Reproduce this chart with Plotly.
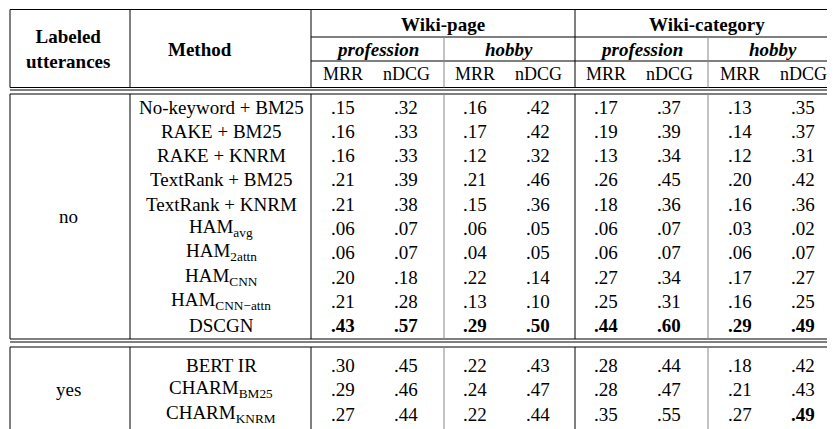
import plotly.graph_objects as go

methods = ["No-keyword + BM25", "RAKE + BM25", "RAKE + KNRM", "TextRank + BM25", "TextRank + KNRM",
           "HAM<sub>avg</sub>", "HAM<sub>2attn</sub>", "HAM<sub>CNN</sub>", "HAM<sub>CNN−attn</sub>", "DSCGN",
           "BERT IR", "CHARM<sub>BM25</sub>", "CHARM<sub>KNRM</sub>"]
values = [
    [".15", ".32", ".16", ".42", ".17", ".37", ".13", ".35"],
    [".16", ".33", ".17", ".42", ".19", ".39", ".14", ".37"],
    [".16", ".33", ".12", ".32", ".13", ".34", ".12", ".31"],
    [".21", ".39", ".21", ".46", ".26", ".45", ".20", ".42"],
    [".21", ".38", ".15", ".36", ".18", ".36", ".16", ".36"],
    [".06", ".07", ".06", ".05", ".06", ".07", ".03", ".02"],
    [".06", ".07", ".04", ".05", ".06", ".07", ".06", ".07"],
    [".20", ".18", ".22", ".14", ".27", ".34", ".17", ".27"],
    [".21", ".28", ".13", ".10", ".25", ".31", ".16", ".25"],
    [".43", ".57", ".29", ".50", ".44", ".60", ".29", ".49"],
    [".30", ".45", ".22", ".43", ".28", ".44", ".18", ".42"],
    [".29", ".46", ".24", ".47", ".28", ".47", ".21", ".43"],
    [".27", ".44", ".22", ".44", ".35", ".55", ".27", ".49"],
]
bold_cells = [(9, c) for c in range(8)] + [(12, 7)]
groups = ["no", "yes"]
sources = ["Wiki-page", "Wiki-category"]
attrs = ["profession", "hobby"]
metrics = ["MRR", "nDCG"]

F = "Liberation Serif, DejaVu Serif, serif"
row_y = [99, 123, 147, 171, 196, 220, 244, 269, 293, 317, 357, 381, 406]
col_x = [335, 398, 467, 530, 598, 661, 732, 795]
fig = go.Figure()
ann = []
def t(x, y, s, size=19, bold=False, ital=False):
    if ital: s = "<i>" + s + "</i>"
    if bold: s = "<b>" + s + "</b>"
    ann.append(dict(x=x, y=y, text=s, showarrow=False, xref="x", yref="y",
                    font=dict(family=F, size=size, color="black"), xanchor="center", yanchor="middle"))

t(60, 41, "Labeled<br>utterances", 19, bold=True)
t(192, 41, "Method", 19, bold=True)
for i, s in enumerate(sources):
    t(435 + i * 264, 16, s, 19, bold=True)
    for j, a in enumerate(attrs):
        t(369 + i * 264 + j * 132, 41, a, 19, bold=True, ital=True)
        for k, m in enumerate(metrics):
            t(col_x[i * 4 + j * 2 + k], 66, m, 18)
for r, (m, row) in enumerate(zip(methods, values)):
    t(213, row_y[r], m, 19)
    for c, v in enumerate(row):
        t(col_x[c], row_y[r], v, 19, bold=(r, c) in bold_cells)
t(60, 208, groups[0], 19)
t(60, 381, groups[1], 19)

shapes = []
def hl(y, x0=2, x1=830, w=1.2):
    shapes.append(dict(type="line", x0=x0, x1=x1, y0=y, y1=y, line=dict(color="black", width=w)))
def vl(x, y0, y1, w=1, c="black"):
    shapes.append(dict(type="line", x0=x, x1=x, y0=y0, y1=y1, line=dict(color=c, width=w)))
hl(1.5); hl(29, 303); hl(53, 303); hl(79.5); hl(82); hl(86); hl(331); hl(334); hl(339); hl(424)
for x in [2, 122, 303, 567, 830]:
    vl(x, 1.5, 79.5); vl(x, 86, 331); vl(x, 339, 424)
for x in [436, 700]:
    vl(x, 29, 79.5, c="#888"); vl(x, 86, 331, c="#888"); vl(x, 339, 424, c="#888")

fig.update_layout(width=835, height=429, margin=dict(l=0, r=0, t=0, b=0),
                  paper_bgcolor="white", plot_bgcolor="white",
                  xaxis=dict(range=[0, 835], visible=False, fixedrange=True),
                  yaxis=dict(range=[429, 0], visible=False, fixedrange=True),
                  annotations=ann, shapes=shapes, showlegend=False)
fig.write_html("out.html")
